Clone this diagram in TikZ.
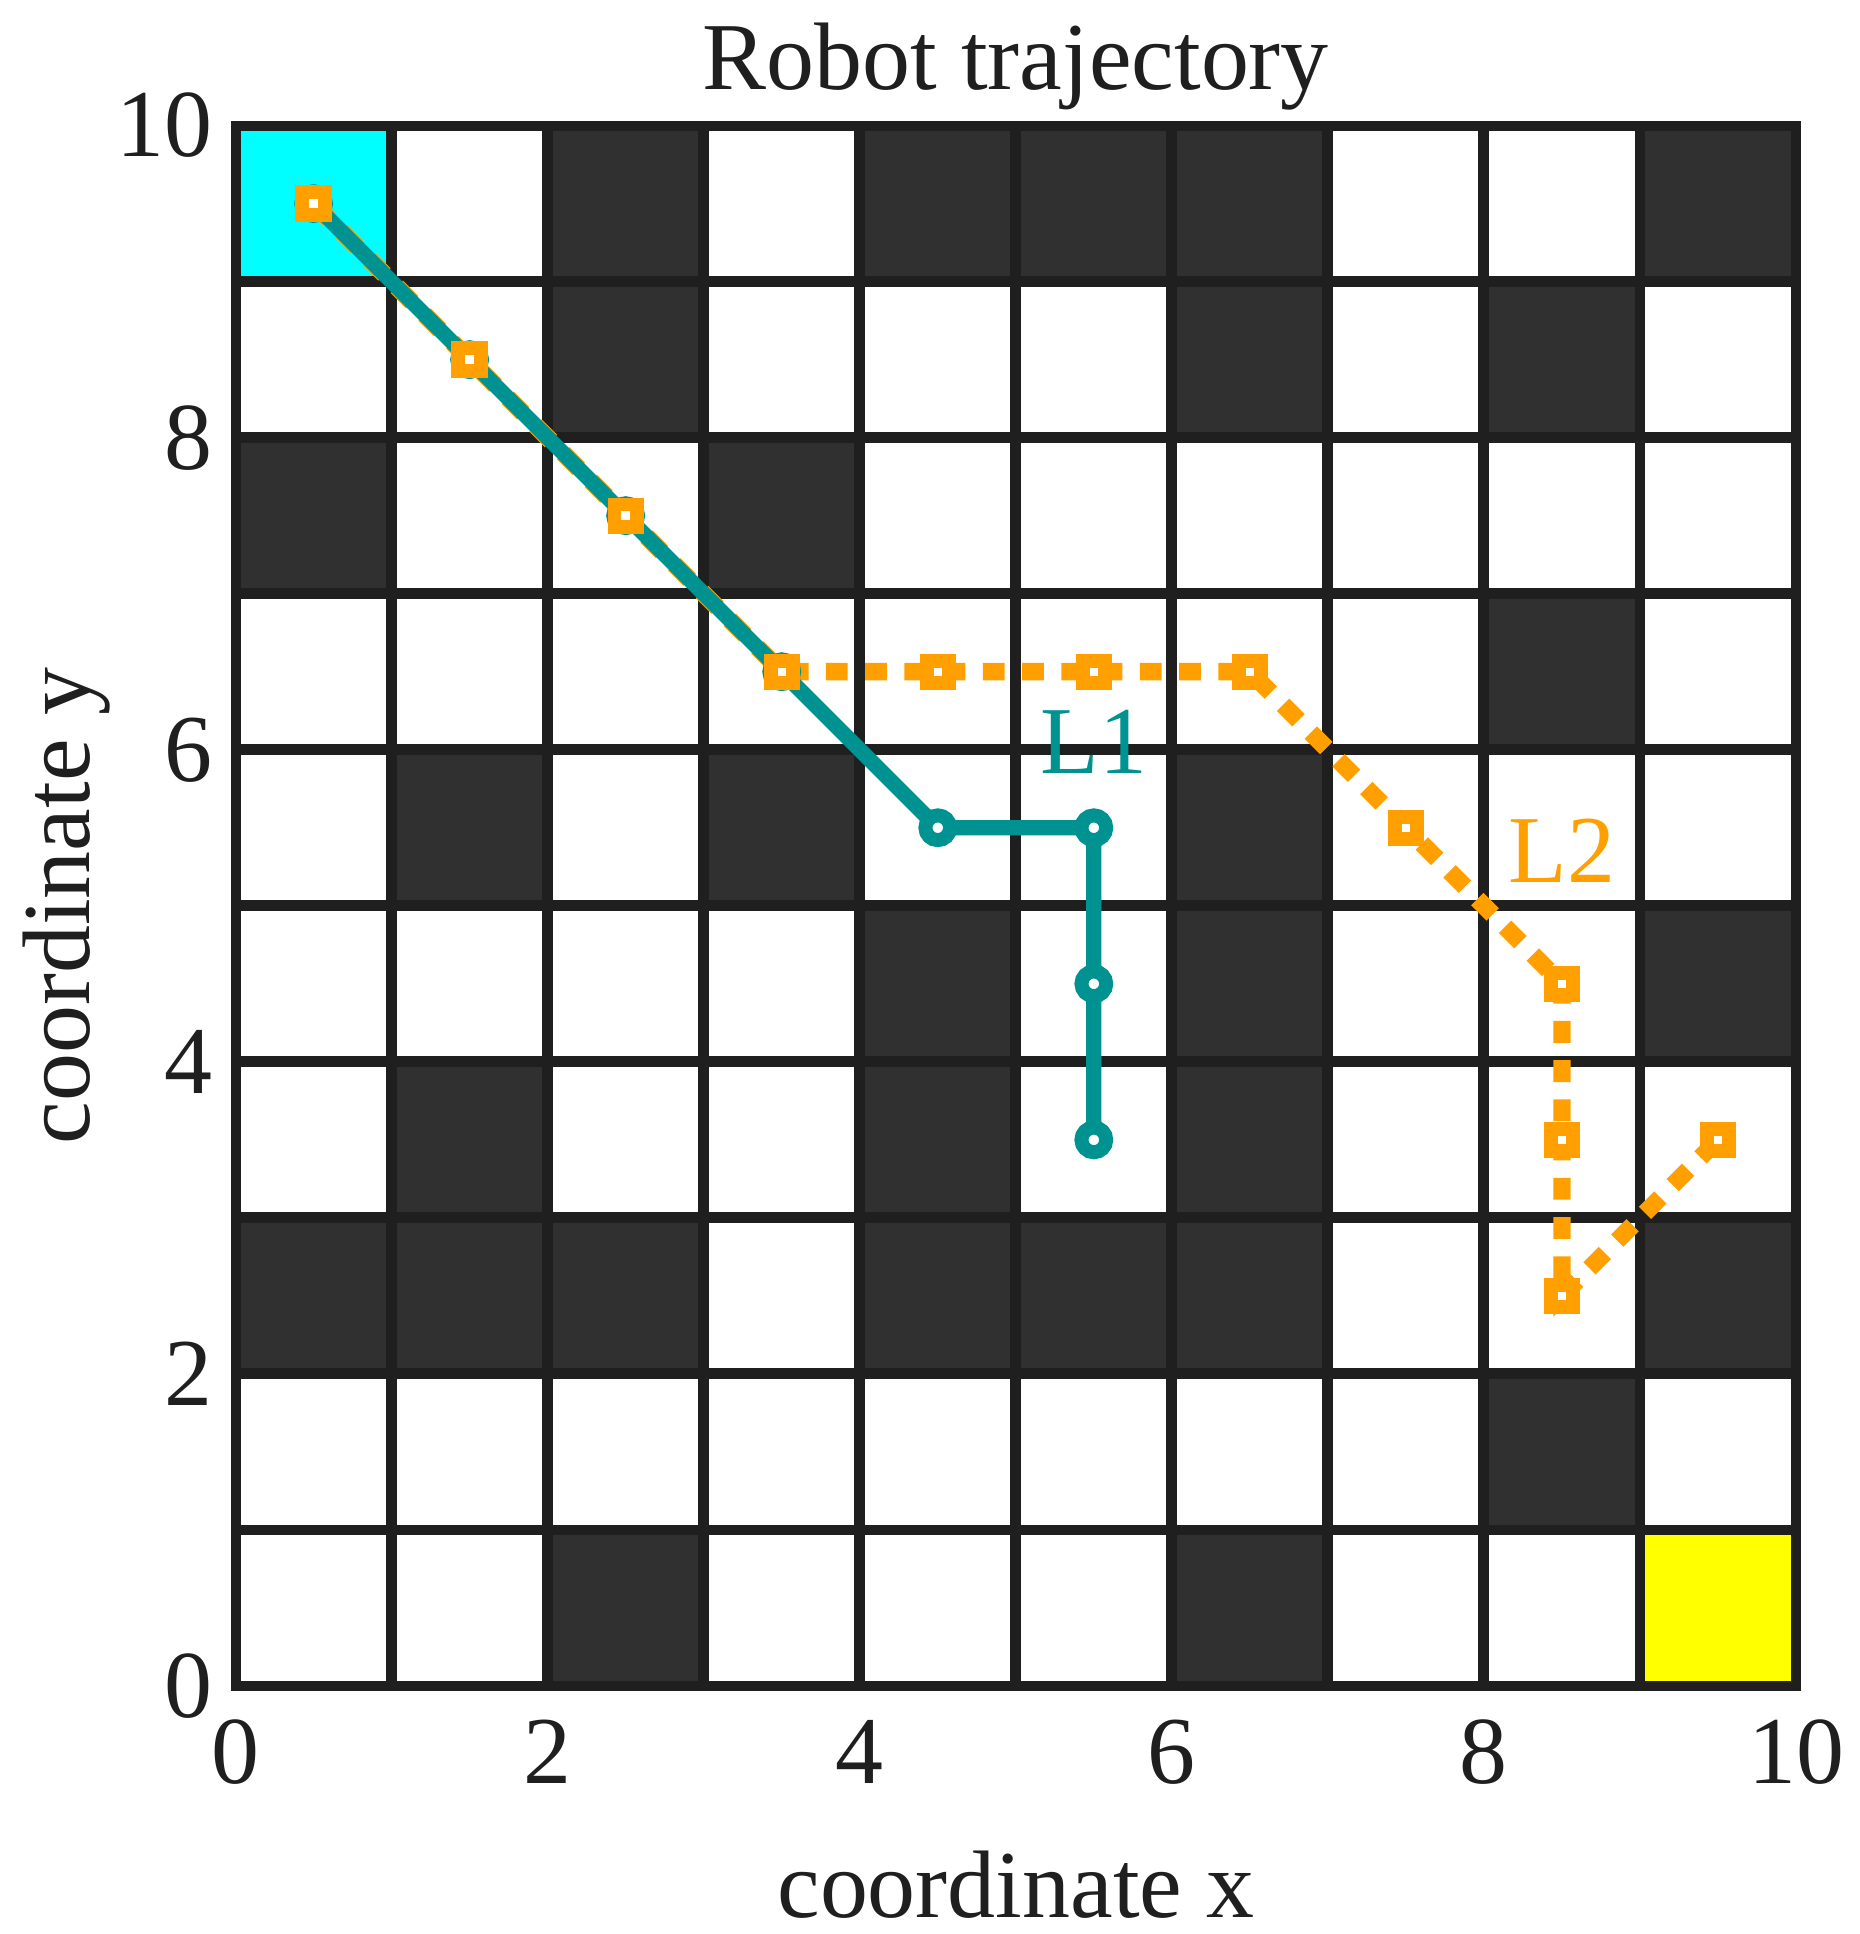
\documentclass[tikz,border=0pt]{standalone}
\usepackage{fontspec}
\setmainfont{Liberation Serif}
\definecolor{teal1}{RGB}{0,145,145}
\definecolor{org}{RGB}{255,160,0}
\definecolor{dk}{RGB}{48,48,48}
\definecolor{cy}{RGB}{0,255,255}
\definecolor{yl}{RGB}{255,255,0}
\tikzset{
 lab/.style={font=\fontsize{22}{26}\selectfont, text=black!88},
 mc/.style={circle,draw=teal1,line width=3.2pt,fill=white,inner sep=0pt,minimum size=0.2cm},
 ms/.style={rectangle,draw=org,line width=3.2pt,fill=white,inner sep=0pt,minimum size=0.18cm},
}
\begin{document}
\begin{tikzpicture}[x=0.01cm,y=0.01cm]
\useasboundingbox (0,0) rectangle (1500,1560);
\begin{scope}[shift={(190,200)},x=1.258cm,y=1.258cm]
\fill[black!88] (-0.03,-0.03) rectangle (10.03,10.03);
\foreach \c in {0,...,9}\foreach \r in {0,...,9}
  \fill[white] (\c+0.035,\r+0.035) rectangle (\c+0.965,\r+0.965);
\foreach \c/\r in {2/9,4/9,5/9,6/9,9/9,2/8,6/8,8/8,0/7,3/7,8/6,1/5,3/5,6/5,4/4,6/4,9/4,1/3,4/3,6/3,0/2,1/2,2/2,4/2,5/2,6/2,9/2,8/1,2/0,6/0}
  \fill[dk] (\c+0.035,\r+0.035) rectangle (\c+0.965,\r+0.965);
\fill[cy] (0.035,9.035) rectangle (0.965,9.965);
\fill[yl] (9.035,0.035) rectangle (9.965,0.965);
% L2
\foreach \i/\p in {1/{0.5,9.5},2/{1.5,8.5},3/{2.5,7.5},4/{3.5,6.5},5/{4.5,6.5},6/{5.5,6.5},7/{6.5,6.5},8/{7.5,5.5},9/{8.5,4.5},10/{8.5,3.5},11/{8.5,2.5},12/{9.5,3.5}}
  \coordinate (b\i) at (\p);
\draw[org,line width=4pt,dash pattern=on 5pt off 4pt] (b1)--(b2)--(b3)--(b4)--(b5)--(b6)--(b7)--(b8)--(b9)--(b10)--(b11)--(b12);
% L1
\foreach \i/\p in {1/{0.5,9.5},2/{1.5,8.5},3/{2.5,7.5},4/{3.5,6.5},5/{4.5,5.5},6/{5.5,5.5},7/{5.5,4.5},8/{5.5,3.5}}
  \coordinate (a\i) at (\p);
\draw[teal1,line width=3.5pt] (a1)--(a2)--(a3)--(a4)--(a5)--(a6)--(a7)--(a8);
\foreach \i in {1,...,8} \node[mc] (ma\i) at (a\i) {};
\foreach \i in {1,...,12} \node[ms] (mb\i) at (b\i) {};
\node[lab,text=teal1] (l1) at (5.5,6.05) {L1};
\node[lab,text=org] (l2) at (8.5,5.35) {L2};
% ticks
\foreach \v in {0,2,...,10}{
 \node[lab,below] (tx\v) at (\v,-0.12) {\v};
 \node[lab,left] (ty\v) at (-0.05,\v) {\v};
}
\node[lab] (xl) at (5,-1.27) {coordinate x};
\node[lab,rotate=90] (yl) at (-1.08,5) {coordinate y};
\node[lab] (tt) at (5,10.38) {Robot trajectory};
\end{scope}
\end{tikzpicture}
\end{document}
